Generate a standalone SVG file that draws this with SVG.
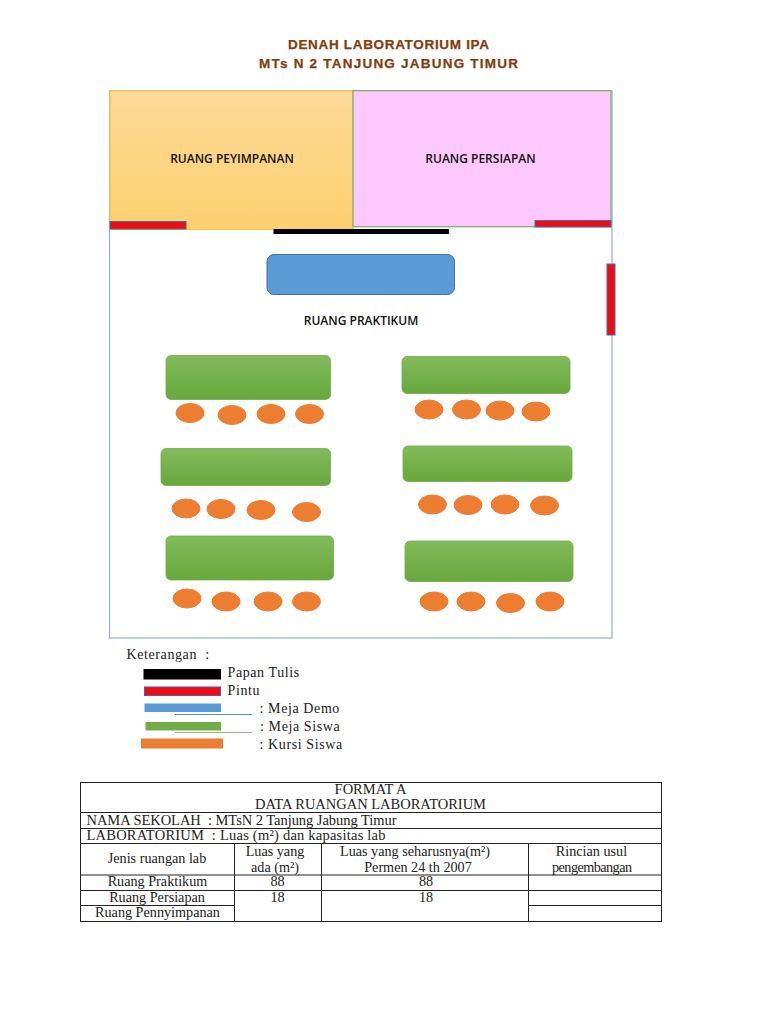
<svg xmlns="http://www.w3.org/2000/svg" width="768" height="1024" viewBox="0 0 768 1024">
<style>
.title{font:bold 13.500px "Liberation Sans",Arial,sans-serif;fill:#843c0c;stroke:#843c0c;stroke-width:.25;text-anchor:middle}
.room{font:600 12px "Open Sans","Liberation Sans",sans-serif;fill:#111;text-anchor:middle}
.door{fill:#ee0b16;stroke:#41719c;stroke-width:1}
.desk{fill:url(#g);stroke:#70ad47;stroke-width:.8}
.chair{fill:#ed7d31;stroke:#ed7d31}
.lg{font:14px "Liberation Serif","Times New Roman",serif;fill:#222;letter-spacing:.6px;white-space:pre}
.t{font:14.200px "Liberation Serif","Times New Roman",serif;fill:#222;white-space:pre}
.m{text-anchor:middle}
.tl{stroke:#222;stroke-width:1;fill:none}
</style>
<defs>
<linearGradient id="y" x1="0" y1="0" x2="0" y2="1"><stop offset="0" stop-color="#fed998"/><stop offset="1" stop-color="#fdd06f"/></linearGradient>
<linearGradient id="g" x1="0" y1="0" x2="0" y2="1"><stop offset="0" stop-color="#83bb5c"/><stop offset="1" stop-color="#67a83c"/></linearGradient>
</defs>
<rect width="768" height="1024" fill="#fff"/>
<g id="titles">
<text class="title" x="388.500" y="49" textLength="201">DENAH LABORATORIUM IPA</text>
<text class="title" x="388.500" y="68" textLength="259">MTs N 2 TANJUNG JABUNG TIMUR</text>
</g>
<g id="ruang-praktikum">
<rect x="109.500" y="91" width="502.500" height="547" fill="#fff" stroke="#8fb0d3" stroke-width="1.200"/>
<text class="room" x="361" y="324.500">RUANG PRAKTIKUM</text>
</g>
<g id="ruang-penyimpanan">
<rect x="110" y="91" width="243" height="138.500" fill="url(#y)" stroke="#f8c93a" stroke-width="1.200"/>
<text class="room" x="232" y="162.500">RUANG PEYIMPANAN</text>
</g>
<g id="ruang-persiapan">
<rect x="353" y="90.700" width="258" height="136" fill="#fdc8fd" stroke="#7fa868" stroke-width="1.200"/>
<text class="room" x="480.500" y="162.500">RUANG PERSIAPAN</text>
</g>
<g id="pintu">
<rect class="door" x="110" y="221.500" width="76" height="7.500"/>
<rect class="door" x="535" y="220.500" width="76" height="6.500"/>
<rect class="door" x="607" y="264" width="8" height="71"/>
</g>
<rect id="papan-tulis" x="273.500" y="229" width="175.500" height="5" fill="#000"/>
<rect id="meja-demo" x="267" y="254.500" width="187.500" height="40" rx="7" fill="#5b9bd5" stroke="#41719c"/>
<g id="meja-siswa">
<rect class="desk" x="166" y="355.500" width="164.500" height="44" rx="5"/>
<rect class="desk" x="402" y="356.500" width="168" height="37" rx="5"/>
<rect class="desk" x="161" y="448.500" width="169.500" height="37" rx="5"/>
<rect class="desk" x="403" y="446" width="169" height="35.500" rx="5"/>
<rect class="desk" x="166" y="536" width="167.500" height="44" rx="5"/>
<rect class="desk" x="405" y="541" width="168" height="40.500" rx="5"/>
</g>
<g id="kursi-siswa">
<ellipse class="chair" cx="190" cy="413" rx="14" ry="9.500"/>
<ellipse class="chair" cx="232" cy="415" rx="14" ry="9.500"/>
<ellipse class="chair" cx="271" cy="414" rx="14" ry="9.500"/>
<ellipse class="chair" cx="309.500" cy="414" rx="14" ry="9.500"/>
<ellipse class="chair" cx="429" cy="409.500" rx="14" ry="9.500"/>
<ellipse class="chair" cx="466.500" cy="409.500" rx="14" ry="9.500"/>
<ellipse class="chair" cx="500" cy="410.500" rx="14" ry="9.500"/>
<ellipse class="chair" cx="536" cy="411.500" rx="14" ry="9.500"/>
<ellipse class="chair" cx="186" cy="508.500" rx="14" ry="9.500"/>
<ellipse class="chair" cx="221" cy="509" rx="14" ry="9.500"/>
<ellipse class="chair" cx="261" cy="510" rx="14" ry="9.500"/>
<ellipse class="chair" cx="306.500" cy="512" rx="14" ry="9.500"/>
<ellipse class="chair" cx="432.500" cy="504.500" rx="14" ry="9.500"/>
<ellipse class="chair" cx="468" cy="505" rx="14" ry="9.500"/>
<ellipse class="chair" cx="505" cy="504.500" rx="14" ry="9.500"/>
<ellipse class="chair" cx="544.500" cy="505.500" rx="14" ry="9.500"/>
<ellipse class="chair" cx="187" cy="598.500" rx="14" ry="9.500"/>
<ellipse class="chair" cx="226" cy="601.500" rx="14" ry="9.500"/>
<ellipse class="chair" cx="268" cy="601.500" rx="14" ry="9.500"/>
<ellipse class="chair" cx="306.500" cy="601.500" rx="14" ry="9.500"/>
<ellipse class="chair" cx="434" cy="601.500" rx="14" ry="9.500"/>
<ellipse class="chair" cx="471" cy="601.500" rx="14" ry="9.500"/>
<ellipse class="chair" cx="510.500" cy="603" rx="14" ry="9.500"/>
<ellipse class="chair" cx="550" cy="601.500" rx="14" ry="9.500"/>
</g>
<g id="keterangan">
<text class="lg" x="126.500" y="659">Keterangan  :</text>
<rect x="143.500" y="669" width="77.500" height="10.500" fill="#000"/>
<text class="lg" x="227.500" y="676.500">Papan Tulis</text>
<rect x="144.500" y="687" width="76" height="8.500" fill="#ee0b16" stroke="#5b5b8c"/>
<text class="lg" x="227.500" y="695">Pintu</text>
<rect x="144.500" y="703.500" width="76.500" height="8.500" fill="#5b9bd5"/>
<line x1="175" y1="714.500" x2="252" y2="714.500" stroke="#5f8fb8"/>
<text class="lg" x="259.500" y="713">: Meja Demo</text>
<rect x="145.500" y="722" width="75.500" height="8.500" fill="#70ad47"/>
<line x1="175" y1="732.500" x2="252" y2="732.500" stroke="#8fbf70"/>
<text class="lg" x="260" y="731">: Meja Siswa</text>
<rect x="141" y="738.500" width="82" height="10" fill="#ed7d31"/>
<text class="lg" x="259.500" y="749">: Kursi Siswa</text>
</g>
<g id="tabel">
<rect class="tl" x="80.500" y="782.500" width="581" height="139"/>
<path class="tl" d="M80 812.500H662M80 828.500H662M80 843.500H662M80 875H662M80 890.500H662M80 905.500H234.500M528.500 905.500H662M234.500 843.500V921.500M321.500 843.500V921.500M528.500 843.500V921.500"/>
<text class="t m" x="370.500" y="794" style="font-size:14.500px">FORMAT A</text>
<text class="t m" x="370.500" y="808.500" style="font-size:14.500px" textLength="231">DATA RUANGAN LABORATORIUM</text>
<text class="t" x="86.500" y="824.500" style="font-size:14.500px" textLength="310">NAMA SEKOLAH  : MTsN 2 Tanjung Jabung Timur</text>
<text class="t" x="86.500" y="839.500" style="font-size:14.500px" textLength="299">LABORATORIUM  : Luas (m²) dan kapasitas lab</text>
<text class="t m" x="157" y="863">Jenis ruangan lab</text>
<text class="t m" x="275" y="855.500">Luas yang</text>
<text class="t m" x="275" y="871.500">ada (m²)</text>
<text class="t m" x="415" y="855.500">Luas yang seharusnya(m²)</text>
<text class="t m" x="418" y="871.500">Permen 24 th 2007</text>
<text class="t m" x="591.500" y="855.500">Rincian usul</text>
<text class="t m" x="592" y="871.500" textLength="80">pengembangan</text>
<text class="t m" x="157.500" y="886">Ruang Praktikum</text>
<text class="t m" x="157" y="901.500">Ruang Persiapan</text>
<text class="t m" x="157.500" y="916.500">Ruang Pennyimpanan</text>
<text class="t m" x="277.500" y="886">88</text>
<text class="t m" x="277.500" y="901.500">18</text>
<text class="t m" x="426" y="886">88</text>
<text class="t m" x="426" y="901.500">18</text>
</g>
</svg>
